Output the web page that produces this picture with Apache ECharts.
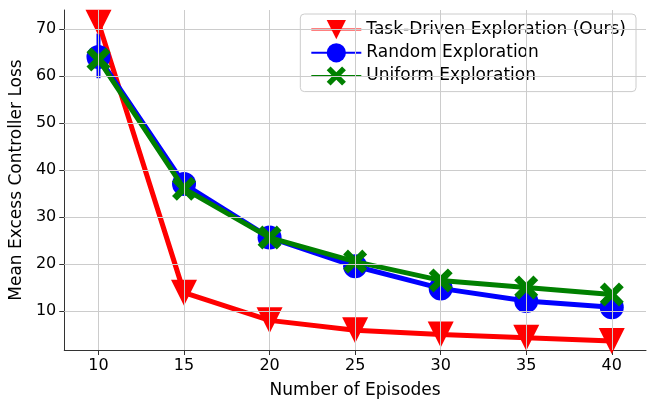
<!DOCTYPE html><html><head><meta charset="utf-8"><script src="https://cdn.jsdelivr.net/npm/echarts@6/dist/echarts.min.js"></script></head><body style="margin:0"><div id="c" style="width:654px;height:415px"></div><script>
const episodes=[10,15,20,25,30,35,40];
const taskDriven=[71.3,13.9,8.0,5.9,5.0,4.3,3.6];
const randomExp=[64.0,37.0,25.6,19.5,14.8,12.1,10.8];
const uniformExp=[63.5,36.0,25.6,20.5,16.5,15.0,13.5];
const randomErr=[[10,59.5,69.0]];
const xTicks=[10,15,20,25,30,35,40];
const yTicks=[10,20,30,40,50,60,70];
const pair=a=>episodes.map((x,i)=>[x,a[i]]);
const F='DejaVu Sans';
const X='path://M2,0 L5,3 L8,0 L10,2 L7,5 L10,8 L8,10 L5,7 L2,10 L0,8 L3,5 L0,2 Z';
const lbl={fontFamily:F,fontSize:16,color:'#000'};
const ch=echarts.init(document.getElementById('c'));
ch.setOption({animation:false,
grid:{left:63,right:8,top:10,bottom:65},
legend:{right:18,top:14,orient:'vertical',itemWidth:50,itemHeight:24,itemGap:4,backgroundColor:'#fff',borderColor:'#ccc',borderWidth:1,borderRadius:4,padding:[6,10],textStyle:{fontFamily:F,fontSize:17,color:'#000'},
 data:['Task-Driven Exploration (Ours)','Random Exploration','Uniform Exploration']},
xAxis:{type:'value',min:8,max:42,name:'Number of Episodes',nameLocation:'middle',nameGap:32,nameTextStyle:{fontFamily:F,fontSize:17,color:'#000'},
 axisLine:{onZero:false,lineStyle:{color:'#333'}},axisTick:{show:true,customValues:xTicks,lineStyle:{color:'#333'}},axisLabel:Object.assign({customValues:xTicks},lbl),splitLine:{show:false}},
yAxis:{type:'value',min:1.7,max:74,name:'Mean Excess Controller Loss',nameLocation:'middle',nameGap:36,nameTextStyle:{fontFamily:F,fontSize:17,color:'#000'},
 axisLine:{show:true,lineStyle:{color:'#333'}},axisTick:{show:true,customValues:yTicks,lineStyle:{color:'#333'}},axisLabel:Object.assign({customValues:yTicks},lbl),splitLine:{show:false}},
series:[
{type:'line',data:[],silent:true,markLine:{silent:true,symbol:'none',label:{show:false},lineStyle:{color:'#ccc',type:'solid',width:1},
 data:xTicks.map(v=>({xAxis:v})).concat(yTicks.map(v=>({yAxis:v})))},z:0},
{type:'custom',data:randomErr,z:1,renderItem:(p,api)=>{const t=api.coord([api.value(0),api.value(2)]),b=api.coord([api.value(0),api.value(1)]);return {type:'line',shape:{x1:t[0],y1:t[1],x2:b[0],y2:b[1]},style:{stroke:'#0000ff',lineWidth:4}};}},
{name:'Random Exploration',type:'line',data:pair(randomExp),symbol:'circle',symbolSize:24,lineStyle:{width:5,color:'#0000ff'},itemStyle:{color:'#0000ff'},z:3},
{name:'Uniform Exploration',type:'line',data:pair(uniformExp),symbol:X,symbolSize:24,lineStyle:{width:5,color:'#008000'},itemStyle:{color:'#008000'},z:4},
{name:'Task-Driven Exploration (Ours)',type:'line',data:pair(taskDriven),symbol:'triangle',symbolRotate:180,symbolSize:26,lineStyle:{width:5,color:'#ff0000'},itemStyle:{color:'#ff0000'},z:2}
]});
</script></body></html>
